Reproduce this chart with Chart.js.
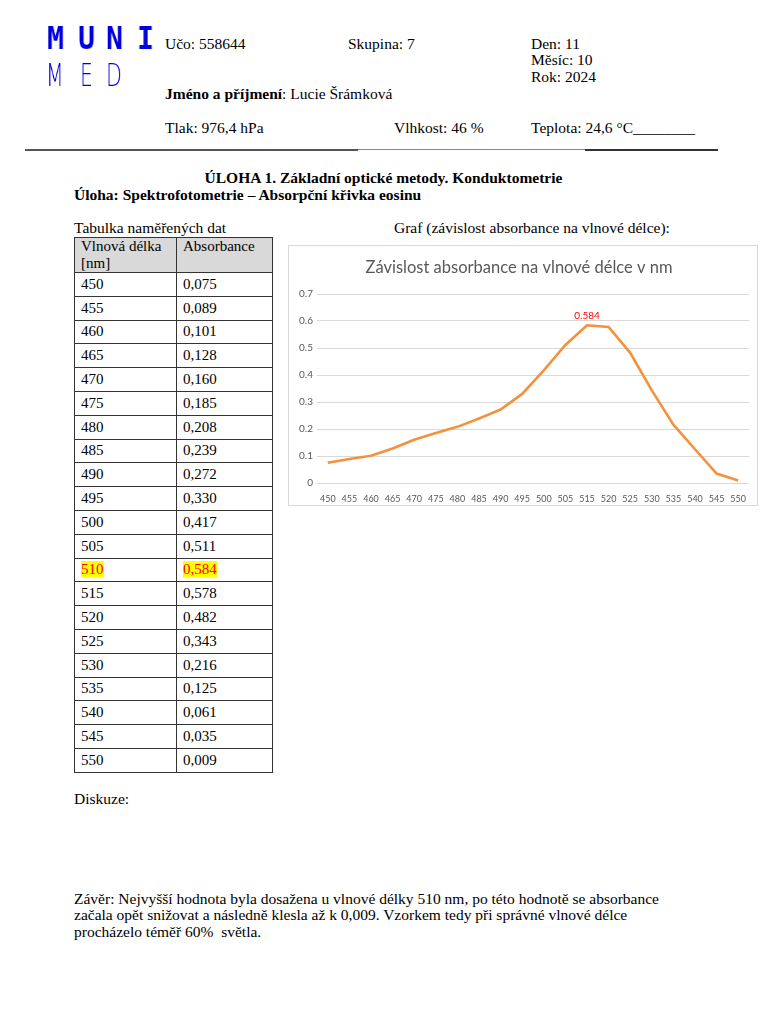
<!DOCTYPE html>
<html lang="cs">
<head>
<meta charset="utf-8">
<title>Absorpční křivka eosinu</title>
<script src="https://cdn.jsdelivr.net/npm/chart.js@4/dist/chart.umd.min.js"></script>
<style>
  html, body { margin: 0; padding: 0; background: #fff; }
  body { width: 768px; height: 1024px; position: relative; overflow: hidden;
         font-family: "Liberation Serif", serif; font-size: 15.5px; color: #000; }
  .t { position: absolute; line-height: 17px; white-space: nowrap; }
  .b { font-weight: bold; }
  .logo { position: absolute; color: #0000dc; font-size: 31.5px; line-height: 37px;
          transform-origin: 0 0; will-change: transform; }
  .logo.bold { font-family: "DejaVu Sans Mono", monospace; font-weight: bold; transform: scaleX(0.9); }
  .logo.thin { font-family: "DejaVu Sans", sans-serif; font-weight: 200; transform: scaleX(0.65); }
  .rule { position: absolute; height: 0; }
  #tbl { position: absolute; left: 74px; top: 237px; border-collapse: collapse; table-layout: fixed; }
  #tbl td { border: 1px solid #333; padding: 0 0 0 6px; font-size: 15px; line-height: 17px;
            vertical-align: middle; white-space: nowrap; }
  #tbl tr.head td { background: #d9d9d9; vertical-align: top; height: 31px; }
  #tbl tr.row td { height: 22.8px; }
  .hl { background: #ffff00; color: #ff0000; }
  #chartBox { position: absolute; left: 288px; top: 245px; width: 468px; height: 259px;
              border: 1px solid #d9d9d9; background: #fff; }
</style>
</head>
<body>

<div class="logo bold" style="left:47px;top:19.5px;">M</div>
<div class="logo bold" style="left:78px;top:19.5px;">U</div>
<div class="logo bold" style="left:106px;top:19.5px;">N</div>
<div class="logo bold" style="left:137px;top:19.5px;">I</div>
<div class="logo thin" style="left:46px;top:56.5px;">M</div>
<div class="logo thin" style="left:80px;top:56.5px;">E</div>
<div class="logo thin" style="left:106px;top:56.5px;">D</div>

<div class="t" style="left:165px;top:35px;">Učo: 558644</div>
<div class="t" style="left:348px;top:35px;">Skupina: 7</div>
<div class="t" style="left:531px;top:35px;">Den: 11</div>
<div class="t" style="left:531px;top:51px;">Měsíc: 10</div>
<div class="t" style="left:531px;top:68px;">Rok: 2024</div>
<div class="t" style="left:165px;top:85px;"><span class="b">Jméno a příjmení</span>: Lucie Šrámková</div>
<div class="t" style="left:165px;top:119px;">Tlak: 976,4 hPa</div>
<div class="t" style="left:394px;top:119px;">Vlhkost: 46 %</div>
<div class="t" style="left:531px;top:119px;">Teplota: 24,6 °C________</div>

<div class="rule" style="left:25px;top:149px;width:333px;border-top:2px solid #555;"></div>
<div class="rule" style="left:358px;top:149px;width:227px;border-top:1px solid #888;"></div>
<div class="rule" style="left:585px;top:149px;width:133px;border-top:2px solid #333;"></div>

<div class="t b" style="left:0;width:767px;text-align:center;top:169px;">ÚLOHA 1. Základní optické metody. Konduktometrie</div>
<div class="t b" style="left:74px;top:186px;">Úloha: Spektrofotometrie – Absorpční křivka eosinu</div>

<div class="t" style="left:74px;top:219px;">Tabulka naměřených dat</div>
<div class="t" style="left:394px;top:219px;">Graf (závislost absorbance na vlnové délce):</div>

<table id="tbl">
  <colgroup><col style="width:102px"><col style="width:96px"></colgroup>
  <tbody></tbody>
</table>

<div id="chartBox"><canvas id="chart" width="468" height="259"></canvas></div>

<div class="t" style="left:74px;top:790px;">Diskuze:</div>
<div class="t" style="left:74px;top:890px;">Závěr: Nejvyšší hodnota byla dosažena u vlnové délky 510 nm, po této hodnotě se absorbance</div>
<div class="t" style="left:74px;top:906px;">začala opět snižovat a následně klesla až k 0,009. Vzorkem tedy při správné vlnové délce</div>
<div class="t" style="left:74px;top:923px;">procházelo téměř 60%&nbsp; světla.</div>

<script>
// naměřená data (tabulka)
const tableWavelengths = ['450', '455', '460', '465', '470', '475', '480', '485', '490', '495', '500',
                          '505', '510', '515', '520', '525', '530', '535', '540', '545', '550'];
const tableAbsorbance = ['0,075', '0,089', '0,101', '0,128', '0,160', '0,185', '0,208', '0,239', '0,272', '0,330', '0,417',
                         '0,511', '0,584', '0,578', '0,482', '0,343', '0,216', '0,125', '0,061', '0,035', '0,009'];
const highlightRow = 12;

// graf (tak, jak je v obrázku - bez 510 a bez 0,061)
const chartLabels = ['450', '455', '460', '465', '470', '475', '480', '485', '490', '495',
                     '500', '505', '515', '520', '525', '530', '535', '540', '545', '550'];
const chartValues = [0.075, 0.089, 0.101, 0.128, 0.160, 0.185, 0.208, 0.239, 0.272, 0.330,
                     0.417, 0.511, 0.584, 0.578, 0.482, 0.343, 0.216, 0.125, 0.035, 0.009];
const yTickLabels = ['0', '0.1', '0.2', '0.3', '0.4', '0.5', '0.6', '0.7'];
const peakIndex = 12;
const peakLabel = '0.584';
const chartTitle = 'Závislost absorbance na vlnové délce v nm';

function buildTable() {
    const body = document.querySelector('#tbl tbody');
    let html = '<tr class="head"><td>Vlnová délka<br>[nm]</td><td>Absorbance</td></tr>';
    tableWavelengths.forEach((wl, i) => {
        const ab = tableAbsorbance[i];
        if (i === highlightRow) {
            html += `<tr class="row"><td><span class="hl">${wl}</span></td><td><span class="hl">${ab}</span></td></tr>`;
        } else {
            html += `<tr class="row"><td>${wl}</td><td>${ab}</td></tr>`;
        }
    });
    body.innerHTML = html;
}

const peakLabelPlugin = {
    id: 'peakLabel',
    afterDatasetsDraw(chart) {
        const pt = chart.getDatasetMeta(0).data[peakIndex];
        if (!pt) return;
        const ctx = chart.ctx;
        ctx.save();
        ctx.font = '10px Lato';
        ctx.fillStyle = '#ff0000';
        ctx.textAlign = 'center';
        ctx.textBaseline = 'middle';
        ctx.fillText(peakLabel, pt.x, pt.y - 10);
        ctx.restore();
    }
};

function initChart() {
    const grey = '#595959';
    new Chart(document.getElementById('chart'), {
        type: 'line',
        data: {
            labels: chartLabels,
            datasets: [{
                data: chartValues,
                borderColor: '#f4923c',
                borderWidth: 2.6,
                pointRadius: 0,
                tension: 0,
                fill: false
            }]
        },
        options: {
            responsive: false,
            animation: false,
            layout: { padding: { left: 0, right: 8, top: 0, bottom: 0 } },
            plugins: {
                legend: { display: false },
                tooltip: { enabled: false },
                title: {
                    display: true,
                    text: chartTitle,
                    color: grey,
                    font: { family: 'Lato', size: 16.5, weight: 'normal' },
                    padding: { top: 12, bottom: 16.2 }
                }
            },
            scales: {
                x: {
                    offset: true,
                    afterFit: scale => { scale.height = 22; },
                    grid: { display: false },
                    border: { display: false },
                    ticks: {
                        color: grey, font: { family: 'Lato', size: 9 },
                        padding: 3, autoSkip: false, maxRotation: 0, minRotation: 0
                    }
                },
                y: {
                    min: 0, max: 0.7,
                    afterFit: scale => { scale.width = 28; },
                    grid: { color: '#d9d9d9', lineWidth: 1, drawTicks: false },
                    border: { display: false },
                    ticks: {
                        stepSize: 0.1, padding: 4, color: grey,
                        font: { family: 'Lato', size: 10 },
                        callback: (v, i) => yTickLabels[i]
                    }
                }
            }
        },
        plugins: [peakLabelPlugin]
    });
}

buildTable();
initChart();
</script>
</body>
</html>
